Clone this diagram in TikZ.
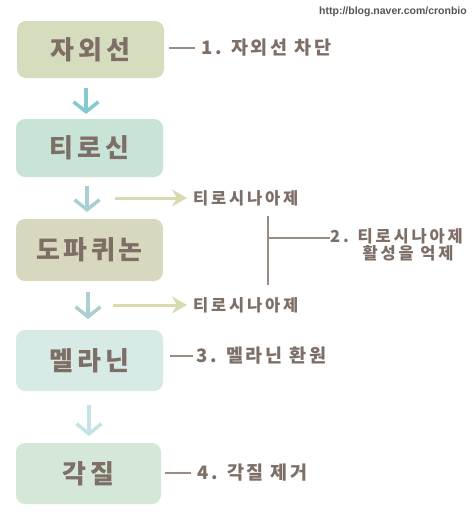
\documentclass[tikz,border=0pt]{standalone}
\usepackage{fontspec}
\setmainfont{Liberation Sans}
\newfontfamily\krbox{Noto Sans CJK KR}[LetterSpace=14]
\newfontfamily\krside{Noto Sans CJK KR}[LetterSpace=15]
\newfontfamily\krenz{Noto Sans CJK KR}[LetterSpace=17]
\usetikzlibrary{arrows.meta}
\definecolor{txt}{HTML}{7D6E66}
\definecolor{lnc}{HTML}{9A8C84}
\definecolor{fA}{HTML}{D5DDBE}
\definecolor{fB}{HTML}{C8E4D7}
\definecolor{fC}{HTML}{D8D8BF}
\definecolor{fD}{HTML}{D8EAE5}
\definecolor{fE}{HTML}{D5E8D8}
\definecolor{aA}{HTML}{84CAD0}
\definecolor{aB}{HTML}{A9CFD4}
\definecolor{aC}{HTML}{AECFCF}
\definecolor{aD}{HTML}{C5E3E2}
\definecolor{hz}{HTML}{D9DAB0}
\definecolor{url}{HTML}{555555}
\tikzset{
  stepbox/.style={rounded corners=9pt, inner sep=0pt, text=txt,
    font=\krbox\bfseries\fontsize{26}{29}\selectfont},
  sidetxt/.style={anchor=west, inner sep=0pt, text=txt,
    font=\krside\bfseries\fontsize{18.5}{20}\selectfont},
  enztxt/.style={anchor=west, inner sep=0pt, text=txt,
    font=\krenz\bfseries\fontsize{16.5}{18}\selectfont},
  downarr/.style={line width=3.5pt, -{Straight Barb[length=10pt,width=25pt]}},
  hzarr/.style={line width=3pt, draw=hz, -{Stealth[length=15pt,width=17pt,inset=5pt]}},
  sideline/.style={draw=lnc, line width=1.6pt},
}
\begin{document}
\begin{tikzpicture}[x=1pt,y=-1pt]
\useasboundingbox (0,0) rectangle (474,528);
\fill[white] (0,0) rectangle (474,528);

\node[anchor=north east, inner sep=0pt, text=url, font=\bfseries\fontsize{10.5}{12}\selectfont] (url) at (467,7) {http://blog.naver.com/cronbio};

% boxes
\path[fill=fA, stepbox] (17,21) rectangle (164,78);
\node[stepbox] (b1) at (90.5,49.5) {자외선};
\path[fill=fB, stepbox] (16,119) rectangle (163,177);
\node[stepbox] (b2) at (89.5,148) {티로신};
\path[fill=fC, stepbox] (16,219) rectangle (163,281);
\node[stepbox] (b3) at (89.5,250) {도파퀴논};
\path[fill=fD, stepbox] (16,330) rectangle (163,391);
\node[stepbox] (b4) at (89.5,360.5) {멜라닌};
\path[fill=fE, stepbox] (16,443) rectangle (161,504);
\node[stepbox] (b5) at (88.5,473.5) {각질};

% vertical arrows
\coordinate (d1s) at (86,88); \coordinate (d1e) at (86,114);
\coordinate (d2s) at (87,186); \coordinate (d2e) at (87,212);
\coordinate (d3s) at (88,292); \coordinate (d3e) at (88,319);
\coordinate (d4s) at (89,405); \coordinate (d4e) at (89,436);
\draw[downarr, draw=aA] (d1s) -- (d1e);
\draw[downarr, draw=aB] (d2s) -- (d2e);
\draw[downarr, draw=aC] (d3s) -- (d3e);
\draw[downarr, draw=aD] (d4s) -- (d4e);

% enzyme arrows
\node[enztxt] (e1) at (193,198) {티로시나아제};
\node[enztxt] (e2) at (193,305) {티로시나아제};
\coordinate (h1) at (115,198);
\coordinate (h2) at (113,305);
\draw[hzarr] (h1) -- ([xshift=-6pt]e1.west);
\draw[hzarr] (h2) -- ([xshift=-6pt]e2.west);

% side labels
\node[sidetxt] (l1) at (201,48) {1. 자외선 차단};
\node[sidetxt] (l3) at (196,356) {3. 멜라닌 환원};
\node[sidetxt] (l4) at (197,473) {4. 각질 제거};
\draw[sideline] (169,48) -- ([xshift=-6pt]l1.west);
\draw[sideline] (170,356) -- ([xshift=-3pt]l3.west);
\draw[sideline] (165,473) -- ([xshift=-6pt]l4.west);

% bracket
\node[enztxt, anchor=north west, align=center] (l2) at (330,228) {2. 티로시나아제\\[-1pt]\hspace*{1.4em}활성을 억제};
\coordinate (bt) at (268,216);
\coordinate (bb) at (268,285);
\coordinate (bm) at (268,238);
\draw[sideline] (bt) -- (bb);
\draw[sideline] (bm) -- (bm -| l2.west);
\end{tikzpicture}
\end{document}
